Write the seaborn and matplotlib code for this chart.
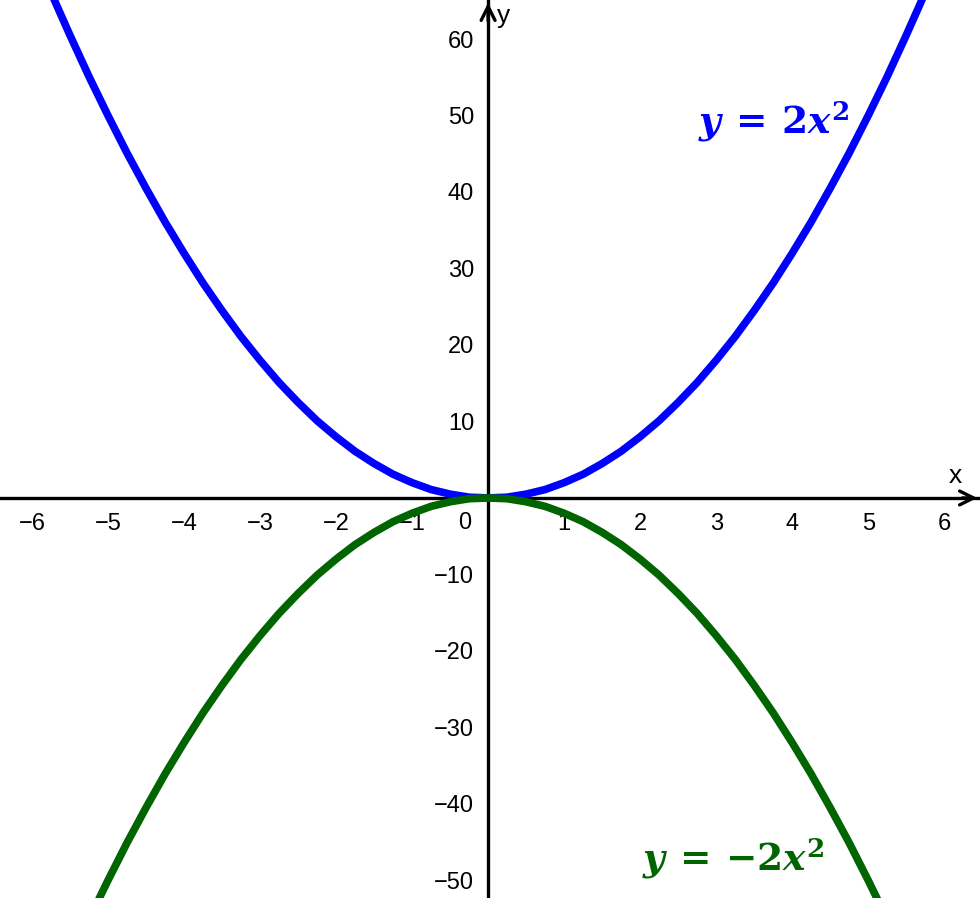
import matplotlib.pyplot as plt
import seaborn as sns

xs = [-6.5, -6.25, -6, -5.75, -5.5, -5.25, -5, -4.75, -4.5, -4.25, -4, -3.75,
      -3.5, -3.25, -3, -2.75, -2.5, -2.25, -2, -1.75, -1.5, -1.25, -1, -0.75,
      -0.5, -0.25, 0, 0.25, 0.5, 0.75, 1, 1.25, 1.5, 1.75, 2, 2.25, 2.5, 2.75,
      3, 3.25, 3.5, 3.75, 4, 4.25, 4.5, 4.75, 5, 5.25, 5.5, 5.75, 6, 6.25, 6.5]
y_blue = [84.5, 78.1, 72, 66.1, 60.5, 55.1, 50, 45.1, 40.5, 36.1, 32, 28.1,
          24.5, 21.1, 18, 15.1, 12.5, 10.1, 8, 6.1, 4.5, 3.1, 2, 1.1,
          0.5, 0.1, 0, 0.1, 0.5, 1.1, 2, 3.1, 4.5, 6.1, 8, 10.1, 12.5, 15.1,
          18, 21.1, 24.5, 28.1, 32, 36.1, 40.5, 45.1, 50, 55.1, 60.5, 66.1, 72, 78.1, 84.5]
y_green = [-v for v in y_blue]

x_ticks = [-6, -5, -4, -3, -2, -1, 1, 2, 3, 4, 5, 6]
y_ticks = [-50, -40, -30, -20, -10, 10, 20, 30, 40, 50, 60]

sns.set_style("white")
plt.rcParams['font.family'] = ['Liberation Sans', 'DejaVu Sans']
plt.rcParams['text.color'] = 'black'
plt.rcParams['mathtext.fontset'] = 'custom'
plt.rcParams['mathtext.it'] = 'DejaVu Serif:italic:bold'
plt.rcParams['mathtext.rm'] = 'DejaVu Serif:bold'
plt.rcParams['mathtext.bf'] = 'DejaVu Serif:bold'

fig = plt.figure(figsize=(9.8, 8.98), dpi=100)
ax = fig.add_axes([0, 0, 1, 1])

sns.lineplot(x=xs, y=y_blue, color='#0000ff', linewidth=5.5, ax=ax, sort=False)
sns.lineplot(x=xs, y=y_green, color='#006400', linewidth=5.5, ax=ax, sort=False)

ax.set_xlim(-6.42, 6.47)
ax.set_ylim(-52.3, 65.1)

for s in ['top', 'right']:
    ax.spines[s].set_visible(False)
for s in ['left', 'bottom']:
    ax.spines[s].set_position(('data', 0))
    ax.spines[s].set_linewidth(2.4)
    ax.spines[s].set_color('black')
    ax.spines[s].set_zorder(1)

ax.set_xticks(x_ticks)
ax.set_yticks(y_ticks)
ax.tick_params(axis='both', direction='out', length=5, width=2.4,
               labelsize=17, color='black', labelcolor='black')
ax.tick_params(axis='x', pad=6)
ax.tick_params(axis='y', pad=5)
ax.text(-0.22, -1.8, '0', fontsize=17, ha='right', va='top')

# arrow heads
ax.annotate('', xy=(6.47, 0), xytext=(6.2, 0),
            arrowprops=dict(arrowstyle='->', lw=2.4, color='black',
                            mutation_scale=25))
ax.annotate('', xy=(0, 65.1), xytext=(0, 62),
            arrowprops=dict(arrowstyle='->', lw=2.4, color='black',
                            mutation_scale=25))
ax.text(6.15, 1.3, 'x', fontsize=19, ha='center', va='bottom')
ax.text(0.12, 61.5, 'y', fontsize=19, ha='left', va='bottom')

ax.text(3.75, 49.2, r'$y\,=\,\mathbf{2}x^{\mathbf{2}}$',
        color='#0000ff', fontsize=27, ha='center', va='center')
ax.text(3.22, -47.1, r'$y\,=\,{-}\mathbf{2}x^{\mathbf{2}}$',
        color='#006400', fontsize=27, ha='center', va='center')

fig.savefig('out.png', dpi=100)
